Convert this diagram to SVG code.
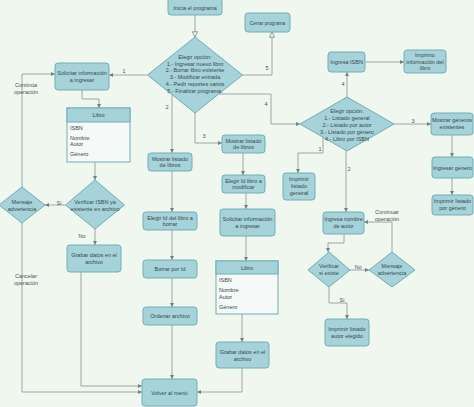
<svg xmlns="http://www.w3.org/2000/svg" width="474" height="407" viewBox="0 0 474 407">
<defs>
<marker id="a" viewBox="0 0 6 6" refX="6" refY="3" markerWidth="4" markerHeight="4" orient="auto" markerUnits="userSpaceOnUse"><path d="M0,0 L6,3 L0,6 z" fill="#6f8288"/></marker>
<marker id="h" viewBox="0 0 8 8" refX="7.5" refY="4" markerWidth="6" markerHeight="6" orient="auto" markerUnits="userSpaceOnUse"><path d="M0.5,0.5 L7.5,4 L0.5,7.5 z" fill="#f0f7ef" stroke="#6f8288" stroke-width="1"/></marker>
<style>
.n{fill:#a6d3d9;stroke:#72acb6;stroke-width:1}
.b{fill:#f5faf8;stroke:#72acb6;stroke-width:1}
.t{font-family:"Liberation Sans",Arial,sans-serif;font-size:5.5px;fill:#37474c;text-anchor:middle}
.f{font-family:"Liberation Sans",Arial,sans-serif;font-size:5.5px;fill:#37474c}
.l{font-family:"Liberation Sans",Arial,sans-serif;font-size:5.5px;fill:#4a5558;text-anchor:middle}
.c path{fill:none;stroke:#8e9ea3;stroke-width:0.9}
</style>
</defs>
<rect x="0" y="0" width="474" height="407" fill="#f0f7ef"/>
<g class="c">
<path d="M195,15 V37" marker-end="url(#h)"/>
<path d="M242,75 H272 V32" marker-end="url(#h)"/>
<path d="M147,75 H109" marker-end="url(#a)"/>
<path d="M219,94 H271 V124 H300" marker-end="url(#a)"/>
<path d="M172,95 V153" marker-end="url(#a)"/>
<path d="M195,113 V143 H222" marker-end="url(#a)"/>
<path d="M172,171 V212" marker-end="url(#a)"/>
<path d="M172,230 V260" marker-end="url(#a)"/>
<path d="M172,278 V307" marker-end="url(#a)"/>
<path d="M172,325 V379" marker-end="url(#a)"/>
<path d="M243,153 V175" marker-end="url(#a)"/>
<path d="M246,193 V209" marker-end="url(#a)"/>
<path d="M246,236 V261" marker-end="url(#a)"/>
<path d="M242,314 V342" marker-end="url(#a)"/>
<path d="M242,368 V392 H197" marker-end="url(#a)"/>
<path d="M82,90 V99 H99 V108" marker-end="url(#a)"/>
<path d="M95,162 V180" marker-end="url(#a)"/>
<path d="M65,205 H45" marker-end="url(#a)"/>
<path d="M95,229 V245" marker-end="url(#a)"/>
<path d="M81,272 V386 H142" marker-end="url(#a)"/>
<path d="M22,187 V74 H55" marker-end="url(#a)"/>
<path d="M22,223 V392 H142" marker-end="url(#a)"/>
<path d="M347,97 V72" marker-end="url(#a)"/>
<path d="M365,62 H404" marker-end="url(#a)"/>
<path d="M394,124 H431" marker-end="url(#a)"/>
<path d="M452,135 V157" marker-end="url(#a)"/>
<path d="M452,178 V195" marker-end="url(#a)"/>
<path d="M323,137 V153 H298 V173" marker-end="url(#a)"/>
<path d="M346,151 V212" marker-end="url(#a)"/>
<path d="M344,234 V243 H328 V252" marker-end="url(#a)"/>
<path d="M350,270 H369" marker-end="url(#a)"/>
<path d="M392,252 V222 H364" marker-end="url(#a)"/>
<path d="M329,287 V303 H347 V319" marker-end="url(#a)"/>
</g>
<g id="labels">
<text class="l" x="124" y="73">1</text>
<text class="l" x="267" y="70">5</text>
<text class="l" x="266" y="106">4</text>
<text class="l" x="167" y="109">2</text>
<text class="l" x="204" y="138">3</text>
<text class="l" x="59" y="205">Si</text>
<text class="l" x="82" y="238">No</text>
<text class="l" x="26" y="87">Continúa</text>
<text class="l" x="26" y="94">operación</text>
<text class="l" x="26" y="278">Cancelar</text>
<text class="l" x="26" y="285">operación</text>
<text class="l" x="343" y="86">4</text>
<text class="l" x="413" y="123">3</text>
<text class="l" x="320" y="151">1</text>
<text class="l" x="349" y="171">2</text>
<text class="l" x="387" y="214">Continuar</text>
<text class="l" x="387" y="221">operación</text>
<text class="l" x="358" y="269">No</text>
<text class="l" x="342" y="302">Si</text>
</g>
<g id="inicia"><rect class="n" x="168" y="-3" width="54" height="18" rx="3"/><text class="t" x="195" y="10">Inicia el programa</text></g>
<g id="cerrar"><rect class="n" x="245" y="13" width="45" height="19" rx="3"/><text class="t" x="267.5" y="24.5" style="font-size:4.8px">Cerrar programa</text></g>
<g id="menu"><polygon class="n" points="195,37 242.5,75 195,113 147.5,75"/>
<text class="t" x="195" y="59">Elegir opción:</text>
<text class="t" x="195" y="65.7">1.- Ingresar nuevo libro</text>
<text class="t" x="195" y="72.4">2.- Borrar libro existente</text>
<text class="t" x="195" y="79.1">3.- Modificar entrada</text>
<text class="t" x="195" y="85.8">4.- Pedir reportes varios</text>
<text class="t" x="195" y="92.5">5.- Finalizar programa.</text></g>
<g id="solicitar1"><rect class="n" x="55" y="63" width="54" height="27" rx="3"/><text class="t" x="82" y="75">Solicitar información</text><text class="t" x="82" y="82">a ingresar</text></g>
<g id="libro1"><rect class="b" x="67" y="108" width="63" height="54"/><rect class="n" x="67" y="108" width="63" height="14"/><text class="t" x="98.5" y="117">Libro</text>
<text class="f" x="70" y="130">ISBN</text><text class="f" x="70" y="139.5">Nombre</text><text class="f" x="70" y="146">Autor</text><text class="f" x="70" y="156">Género</text></g>
<g id="verificarisbn"><polygon class="n" points="95,180 124.5,205 95,229 65.5,205"/><text class="t" x="95" y="204">Verificar ISBN ya</text><text class="t" x="95" y="210.5">existente en archivo</text></g>
<g id="mensaje1"><polygon class="n" points="22,187 45,205 22,223 -1,205"/><text class="t" x="22" y="204">Mensaje</text><text class="t" x="22" y="210.5">advertencia</text></g>
<g id="grabar1"><rect class="n" x="67" y="245" width="54" height="27" rx="3"/><text class="t" x="94" y="257">Grabar datos en el</text><text class="t" x="94" y="264">archivo</text></g>
<g id="mostrar2"><rect class="n" x="148" y="153" width="44" height="18" rx="3"/><text class="t" x="170" y="160.5">Mostrar listado</text><text class="t" x="170" y="167">de libros</text></g>
<g id="elegirborrar"><rect class="n" x="143" y="212" width="54" height="18" rx="3"/><text class="t" x="170" y="219.5">Elegir Id del libro a</text><text class="t" x="170" y="226">borrar</text></g>
<g id="borrar"><rect class="n" x="143" y="260" width="54" height="18" rx="3"/><text class="t" x="170" y="271">Borrar por Id</text></g>
<g id="ordenar"><rect class="n" x="143" y="307" width="54" height="18" rx="3"/><text class="t" x="170" y="318">Ordenar archivo</text></g>
<g id="volver"><rect class="n" x="142" y="379" width="55" height="27" rx="3"/><text class="t" x="169.5" y="394.5">Volver al menú</text></g>
<g id="mostrar3"><rect class="n" x="222" y="135" width="43" height="18" rx="3"/><text class="t" x="243.5" y="142.5">Mostrar listado</text><text class="t" x="243.5" y="149">de libros</text></g>
<g id="elegirmod"><rect class="n" x="222" y="175" width="43" height="18" rx="3"/><text class="t" x="243.5" y="182.5">Elegir Id libro a</text><text class="t" x="243.5" y="189">modificar</text></g>
<g id="solicitar3"><rect class="n" x="220" y="209" width="55" height="27" rx="3"/><text class="t" x="247.5" y="221">Solicitar información</text><text class="t" x="247.5" y="228">a ingresar</text></g>
<g id="libro3"><rect class="b" x="216" y="261" width="62" height="53"/><rect class="n" x="216" y="261" width="62" height="13"/><text class="t" x="247" y="269.5">Libro</text>
<text class="f" x="219" y="282">ISBN</text><text class="f" x="219" y="292">Nombre</text><text class="f" x="219" y="298.5">Autor</text><text class="f" x="219" y="309">Género</text></g>
<g id="grabar3"><rect class="n" x="216" y="342" width="53" height="26" rx="3"/><text class="t" x="242.5" y="353.5">Grabar datos en el</text><text class="t" x="242.5" y="360.5">archivo</text></g>
<g id="reportes"><polygon class="n" points="347,97 394,124 347,151 300,124"/>
<text class="t" x="347" y="113">Elegir opción:</text>
<text class="t" x="347" y="120">1.- Listado general</text>
<text class="t" x="347" y="127">2.- Listado por autor</text>
<text class="t" x="347" y="134">3.- Listado por género</text>
<text class="t" x="347" y="141">4.- Libro por ISBN</text></g>
<g id="ingresaisbn"><rect class="n" x="328" y="52" width="37" height="20" rx="3"/><text class="t" x="346.5" y="64">Ingresa ISBN</text></g>
<g id="imprimolibro"><rect class="n" x="404" y="50" width="42" height="23" rx="3"/><text class="t" x="425" y="57">Imprimo</text><text class="t" x="425" y="63.5">información del</text><text class="t" x="425" y="70">libro</text></g>
<g id="mostrargeneros"><rect class="n" x="431" y="113" width="42" height="22" rx="3"/><text class="t" x="452" y="122">Mostrar géneros</text><text class="t" x="452" y="129">existentes</text></g>
<g id="ingresargenero"><rect class="n" x="432" y="157" width="41" height="21" rx="3"/><text class="t" x="452.5" y="169.5">Ingresar género</text></g>
<g id="imprimirgenero"><rect class="n" x="432" y="195" width="41" height="20" rx="3"/><text class="t" x="452.5" y="203">Imprimir listado</text><text class="t" x="452.5" y="210">por género</text></g>
<g id="imprimirgeneral"><rect class="n" x="283" y="173" width="32" height="27" rx="3"/><text class="t" x="299" y="181">Imprimir</text><text class="t" x="299" y="188">listado</text><text class="t" x="299" y="195">general</text></g>
<g id="ingresaautor"><rect class="n" x="323" y="212" width="41" height="22" rx="3"/><text class="t" x="343.5" y="221">Ingresa nombre</text><text class="t" x="343.5" y="228">de autor</text></g>
<g id="verificarautor"><polygon class="n" points="329,252 350,270 329,287 308,270"/><text class="t" x="329" y="268">Verificar</text><text class="t" x="329" y="274.5">si existe</text></g>
<g id="mensaje2"><polygon class="n" points="392,252 415,270 392,287 369,270"/><text class="t" x="392" y="268">Mensaje</text><text class="t" x="392" y="274.5">advertencia</text></g>
<g id="imprimirautor"><rect class="n" x="325" y="319" width="44" height="27" rx="3"/><text class="t" x="347" y="331">Imprimir listado</text><text class="t" x="347" y="338">autor elegido</text></g>
</svg>
